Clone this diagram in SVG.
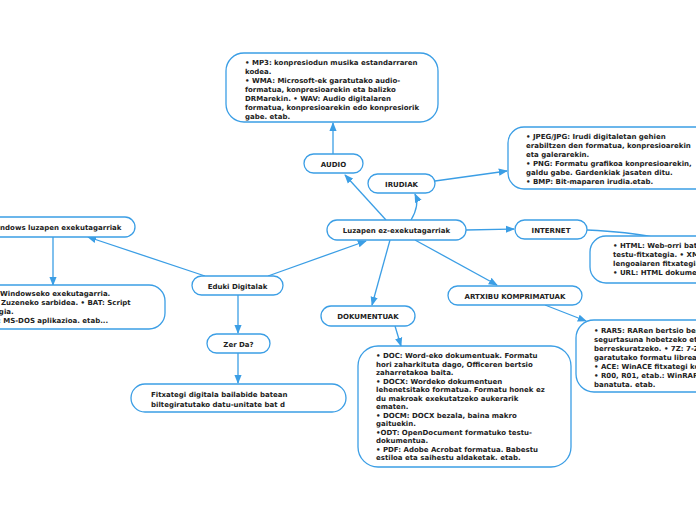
<svg xmlns="http://www.w3.org/2000/svg" width="696" height="520" viewBox="0 0 696 520">
<style>
.b{fill:#fff;stroke:#3b9ee5;stroke-width:1.3}
.t{font-family:"DejaVu Sans",Verdana,sans-serif;font-weight:bold;font-size:7px;fill:#222}
.c{fill:none;stroke:#3b9ee5;stroke-width:1.3}
</style>
<defs><marker id="a" viewBox="0 0 10 10" refX="9" refY="5" markerWidth="7" markerHeight="7" orient="auto"><path d="M0,1L10,5L0,9z" fill="#3b9ee5"/></marker></defs>
<rect width="696" height="520" fill="#fff"/>
<g id="connectors">
<path class="c" d="M386,220L345,175" marker-end="url(#a)"/>
<path class="c" d="M333,154L333,123" marker-end="url(#a)"/>
<path class="c" d="M411,220Q420,205 415,194" marker-end="url(#a)"/>
<path class="c" d="M435,181L507,171" marker-end="url(#a)"/>
<path class="c" d="M466,230L514,229" marker-end="url(#a)"/>
<path class="c" d="M587,230Q630,232 652,237"/>
<path class="c" d="M415,240L497,285" marker-end="url(#a)"/>
<path class="c" d="M545,305L586,321" marker-end="url(#a)"/>
<path class="c" d="M390,240L372,305" marker-end="url(#a)"/>
<path class="c" d="M395,326L401,346" marker-end="url(#a)"/>
<path class="c" d="M268,276L366,241" marker-end="url(#a)"/>
<path class="c" d="M205,276L88,237" marker-end="url(#a)"/>
<path class="c" d="M53,237L53,285" marker-end="url(#a)"/>
<path class="c" d="M238,295L238,333" marker-end="url(#a)"/>
<path class="c" d="M238,353L238,383" marker-end="url(#a)"/>
</g>
<g id="luzapen"><rect class="b" x="327" y="220" width="139" height="20" rx="10"/><text class="t" x="396.5" y="233" text-anchor="middle">Luzapen ez-exekutagarriak</text></g>
<g id="audio"><rect class="b" x="304" y="154" width="59" height="19" rx="9.5"/><text class="t" x="333.5" y="166.5" text-anchor="middle">AUDIO</text></g>
<g id="mp3"><rect class="b" x="226" y="53" width="212" height="69" rx="18"/><text class="t"><tspan x="245" y="65">• MP3: konpresiodun musika estandarraren</tspan><tspan x="245" y="74">kodea.</tspan><tspan x="245" y="83">• WMA: Microsoft-ek garatutako audio-</tspan><tspan x="245" y="92">formatua, konpresioarekin eta balizko</tspan><tspan x="245" y="101">DRMarekin. • WAV: Audio digitalaren</tspan><tspan x="245" y="110">formatua, konpresioarekin edo konpresiorik</tspan><tspan x="245" y="119">gabe. etab.</tspan></text></g>
<g id="irudiak"><rect class="b" x="368" y="174" width="67" height="19" rx="9.5"/><text class="t" x="401.5" y="186.5" text-anchor="middle">IRUDIAK</text></g>
<g id="jpeg"><rect class="b" x="508" y="127" width="210" height="62" rx="16"/><text class="t"><tspan x="526" y="139">• JPEG/JPG: Irudi digitaletan gehien</tspan><tspan x="526" y="148">erabiltzen den formatua, konpresioarekin</tspan><tspan x="526" y="157">eta galerarekin.</tspan><tspan x="526" y="166">• PNG: Formatu grafikoa konpresioarekin,</tspan><tspan x="526" y="175">galdu gabe. Gardenkiak jasaten ditu.</tspan><tspan x="526" y="184">• BMP: Bit-maparen irudia.etab.</tspan></text></g>
<g id="internet"><rect class="b" x="515" y="220" width="72" height="19" rx="9.5"/><text class="t" x="551" y="232.5" text-anchor="middle">INTERNET</text></g>
<g id="html"><rect class="b" x="590" y="236" width="140" height="47" rx="16"/><text class="t"><tspan x="613" y="248">• HTML: Web-orri batentzat</tspan><tspan x="613" y="257">testu-fitxategia. • XML: XML</tspan><tspan x="613" y="266">lengoaiaren fitxategia.</tspan><tspan x="613" y="275">• URL: HTML dokumentua</tspan></text></g>
<g id="artxibu"><rect class="b" x="448" y="286" width="134" height="19" rx="9.5"/><text class="t" x="515" y="298.5" text-anchor="middle">ARTXIBU KOMPRIMATUAK</text></g>
<g id="rar"><rect class="b" x="576" y="320" width="150" height="72" rx="18"/><text class="t"><tspan x="594" y="333">• RAR5: RARen bertsio berria</tspan><tspan x="594" y="342">segurtasuna hobetzeko eta</tspan><tspan x="594" y="351">berreskuratzeko. • 7Z: 7-Zip-ek</tspan><tspan x="594" y="360">garatutako formatu librea.</tspan><tspan x="594" y="369">• ACE: WinACE fitxategi konprimatua.</tspan><tspan x="594" y="378">• R00, R01, etab.: WinRAR fitxategia</tspan><tspan x="594" y="387">banatuta. etab.</tspan></text></g>
<g id="dokumentuak"><rect class="b" x="321" y="306" width="94" height="20" rx="10"/><text class="t" x="368" y="319" text-anchor="middle">DOKUMENTUAK</text></g>
<g id="doc"><rect class="b" x="358" y="346" width="213" height="121" rx="20"/><text class="t"><tspan x="376" y="358">• DOC: Word-eko dokumentuak. Formatu</tspan><tspan x="376" y="366.5">hori zaharkituta dago, Officeren bertsio</tspan><tspan x="376" y="375">zaharretakoa baita.</tspan><tspan x="376" y="383.5">• DOCX: Wordeko dokumentuen</tspan><tspan x="376" y="392">lehenetsitako formatua. Formatu honek ez</tspan><tspan x="376" y="400.5">du makroak exekutatzeko aukerarik</tspan><tspan x="376" y="409">ematen.</tspan><tspan x="376" y="417.5">• DOCM: DOCX bezala, baina makro</tspan><tspan x="376" y="426">gaituekin.</tspan><tspan x="376" y="434.5">•ODT: OpenDocument formatuko testu-</tspan><tspan x="376" y="443">dokumentua.</tspan><tspan x="376" y="451.5">• PDF: Adobe Acrobat formatua. Babestu</tspan><tspan x="376" y="460">estiloa eta saihestu aldaketak. etab.</tspan></text></g>
<g id="eduki"><rect class="b" x="192" y="276" width="91" height="19" rx="9.5"/><text class="t" x="237.5" y="288.5" text-anchor="middle">Eduki Digitalak</text></g>
<g id="windows"><rect class="b" x="-30" y="217" width="165" height="20" rx="10"/><text class="t" x="-10" y="230">Windows luzapen exekutagarriak</text></g>
<g id="windowsbox"><rect class="b" x="-40" y="285" width="205" height="44" rx="16"/><text class="t"><tspan x="-27" y="296">• EXE: Windowseko exekutagarria.</tspan><tspan x="-27" y="305">• LNK: Zuzeneko sarbidea. • BAT: Script</tspan><tspan x="-27" y="314">fitxategia.</tspan><tspan x="-27" y="323">• COM: MS-DOS aplikazioa. etab...</tspan></text></g>
<g id="zerda"><rect class="b" x="207" y="334" width="63" height="19" rx="9.5"/><text class="t" x="238.5" y="346.5" text-anchor="middle">Zer Da?</text></g>
<g id="fitxategi"><rect class="b" x="131" y="384" width="215" height="28" rx="14"/><text class="t"><tspan x="151" y="397">Fitxategi digitala bailabide batean</tspan><tspan x="151" y="407">biltegiratutako datu-unitate bat d</tspan></text></g>
</svg>
